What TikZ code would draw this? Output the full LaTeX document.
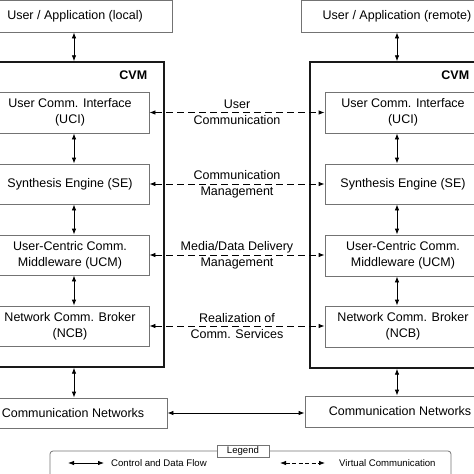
\documentclass[tikz,border=0pt]{standalone}
\usepackage{fontspec}
\setmainfont{Liberation Sans}
\usetikzlibrary{arrows.meta}
\tikzset{
  box/.style={draw=black!55, line width=0.8pt, align=center, inner sep=0pt,
    font=\fontsize{12.5}{16}\selectfont},
  cvmbox/.style={draw=black!90, line width=1.4pt, inner sep=0pt},
  flow/.style={{Latex[length=6pt,width=4.5pt]}-{Latex[length=6pt,width=4.5pt]}, line width=0.8pt},
  virt/.style={flow, dash pattern=on 7pt off 4pt},
  midlabel/.style={midway, align=center, inner sep=0pt, font=\fontsize{12.5}{16}\selectfont}
}
\begin{document}
\begin{tikzpicture}[x=1pt, y=-1pt]
\useasboundingbox (0,0) rectangle (474,474);
\clip (0,0) rectangle (474,474);
	% users on top
	\node[box, minimum width=194, minimum height=32] (ual) at (75,16) {User / Application (local)};
	\node[box, minimum width=192, minimum height=32] (uar) at (397,16) {User / Application (remote)};
	% the two CVMs
	\node[cvmbox, minimum width=194, minimum height=305] (cvml) at (67,214.5) {};
	\node[cvmbox, minimum width=190, minimum height=306] (cvmr) at (405,215) {};
	\node[anchor=north east, font=\fontsize{12.5}{16}\bfseries] (cvmlabl) at ([xshift=-14pt, yshift=-6pt]cvml.north east) {CVM};
	\node[anchor=north east, font=\fontsize{12.5}{16}\bfseries] (cvmlabr) at ([xshift=-28pt, yshift=-6pt]cvmr.north east) {CVM};
	% layers, local side
	\node[box, minimum width=158, minimum height=41] (ucil) at (70,112.5) {User Comm. Interface\\(UCI)};
	\node[box, minimum width=158, minimum height=40] (sel) at (70,184) {Synthesis Engine (SE)};
	\node[box, minimum width=158, minimum height=40] (ucml) at (70,255) {User-Centric Comm.\\Middleware (UCM)};
	\node[box, minimum width=158, minimum height=40] (ncbl) at (70,326) {Network Comm. Broker\\(NCB)};
	% layers, remote side
	\node[box, minimum width=156, minimum height=41] (ucir) at (403,112.5) {User Comm. Interface\\(UCI)};
	\node[box, minimum width=156, minimum height=40] (ser) at (403,184) {Synthesis Engine (SE)};
	\node[box, minimum width=156, minimum height=41] (ucmr) at (403,255.5) {User-Centric Comm.\\Middleware (UCM)};
	\node[box, minimum width=156, minimum height=41] (ncbr) at (403,326.5) {Network Comm. Broker\\(NCB)};
	% networks
	\node[box, minimum width=188, minimum height=30] (cnl) at (73,413) {Communication Networks};
	\node[box, minimum width=190, minimum height=31] (cnr) at (400,411.5) {Communication Networks};
	\coordinate (axl) at (74,0);
	\coordinate (axr) at (397,0);
	% vertical flows
	\draw[flow] (ual.south -| axl) -- (cvml.north -| axl);
	\draw[flow] (ucil.south -| axl) -- (sel.north -| axl);
	\draw[flow] (sel.south -| axl) -- (ucml.north -| axl);
	\draw[flow] (ucml.south -| axl) -- (ncbl.north -| axl);
	\draw[flow] (cvml.south -| axl) -- (cnl.north -| axl);
	\draw[flow] (uar.south -| axr) -- (cvmr.north -| axr);
	\draw[flow] (ucir.south -| axr) -- (ser.north -| axr);
	\draw[flow] (ser.south -| axr) -- (ucmr.north -| axr);
	\draw[flow] (ucmr.south -| axr) -- (ncbr.north -| axr);
	\draw[flow] (cvmr.south -| axr) -- (cnr.north -| axr);
	\draw[flow] (cnl.east) -- (cnl.east -| cnr.west);
	% virtual communication
	\draw[virt] (ucil.east) -- (ucil.east -| ucir.west) node[midlabel] (lbuc) {User\\Communication};
	\draw[virt] (sel.east) -- (sel.east -| ser.west) node[midlabel] (lbcm) {Communication\\Management};
	\draw[virt] (ucml.east) -- (ucml.east -| ucmr.west) node[midlabel] (lbmd) {Media/Data Delivery\\Management};
	\draw[virt] (ncbl.east) -- (ncbl.east -| ncbr.west) node[midlabel] (lbrc) {Realization of\\Comm. Services};
	% legend
	\draw[draw=black!55, line width=0.8pt, rounded corners=3pt] (50,451) rectangle (451,495);
	\node[box, fill=white, minimum width=52, minimum height=12, font=\fontsize{9.6}{11}\selectfont] (legend) at (243,451.5) {Legend};
	\coordinate (fa) at (68,463); \coordinate (fb) at (104,463);
	\coordinate (va) at (280,463); \coordinate (vb) at (325,463);
	\draw[flow] (fa) -- (fb);
	\draw[virt, dash pattern=on 4pt off 2.5pt] (va) -- (vb);
	\node[font=\fontsize{9.6}{11}\selectfont, anchor=west, inner sep=0pt] (lgflow) at (111,463) {Control and Data Flow};
	\node[font=\fontsize{9.6}{11}\selectfont, anchor=west, inner sep=0pt] (lgvirt) at (339,463) {Virtual Communication};
\end{tikzpicture}
\end{document}
